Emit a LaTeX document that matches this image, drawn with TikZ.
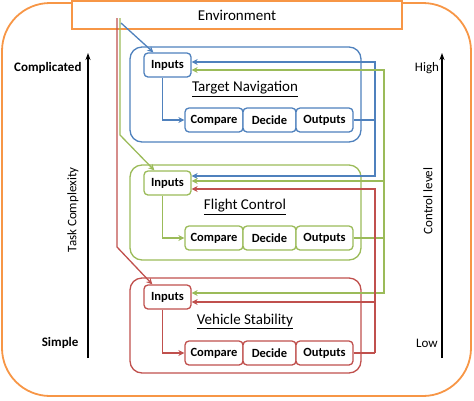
\documentclass[tikz,border=0pt]{standalone}
\usepackage{fontspec}
\setmainfont{Carlito}
\usetikzlibrary{arrows.meta,positioning}
\definecolor{cblue}{HTML}{4F81BD}
\definecolor{cgreen}{HTML}{9BBB59}
\definecolor{cred}{HTML}{C0504D}
\definecolor{corange}{HTML}{F79646}
\begin{document}
\begin{tikzpicture}[x=1pt, y=-1pt,
  group/.style={rectangle, draw, line width=1.3pt, rounded corners=12pt, minimum width=231pt, minimum height=95pt},
  box/.style={rectangle, draw, line width=1.3pt, rounded corners=4pt, fill=white, minimum height=24pt, inner sep=1pt, font=\fontsize{12.5}{14}\selectfont\bfseries},
  title/.style={font=\fontsize{15}{17}\selectfont},
  lbl/.style={font=\fontsize{13}{15}\selectfont},
  arrow/.style={-{Stealth[length=6pt,width=6pt]}, line width=1.3pt},
  axis/.style={-{Stealth[length=7pt,width=5pt]}, line width=1.2pt}
]
  \useasboundingbox (0,0) rectangle (474,400);
  \draw[corange, line width=1.8pt, rounded corners=48pt] (2,3) rectangle (471,396);
  \node[rectangle, draw=corange, line width=1.5pt, fill=white, minimum width=330pt, minimum height=28pt, font=\fontsize{15}{17}\selectfont] (env) at (237,15) {Environment};

  % Target Navigation
  \node[group, draw=cblue] (grpB) at (245.5,94.5) {};
  \node[box, draw=cblue, minimum width=47pt] (inB) at (167.5,65) {Inputs};
  \node[title] (tB) at (245,89) {\underline{Target Navigation}};
  \node[box, draw=cblue, minimum width=58pt] (cmpB) at (214,120) {Compare};
  \node[box, draw=cblue, minimum width=53pt] (decB) at (269.5,120) {Decide};
  \node[box, draw=cblue, minimum width=57pt] (outB) at (324.5,120) {Outputs};

  % Flight Control
  \node[group, draw=cgreen] (grpG) at (245.5,212.5) {};
  \node[box, draw=cgreen, minimum width=47pt] (inG) at (167.5,183) {Inputs};
  \node[title] (tG) at (245,207) {\underline{Flight Control}};
  \node[box, draw=cgreen, minimum width=58pt] (cmpG) at (214,238) {Compare};
  \node[box, draw=cgreen, minimum width=53pt] (decG) at (269.5,238) {Decide};
  \node[box, draw=cgreen, minimum width=57pt] (outG) at (324.5,238) {Outputs};

  % Vehicle Stability
  \node[group, draw=cred] (grpR) at (245.5,325.5) {};
  \node[box, draw=cred, minimum width=47pt] (inR) at (167.5,297) {Inputs};
  \node[title] (tR) at (245,321) {\underline{Vehicle Stability}};
  \node[box, draw=cred, minimum width=58pt] (cmpR) at (214,353) {Compare};
  \node[box, draw=cred, minimum width=53pt] (decR) at (269.5,353) {Decide};
  \node[box, draw=cred, minimum width=57pt] (outR) at (324.5,353) {Outputs};

  % from the environment
  \coordinate (envB) at (121,23);
  \coordinate (envG) at (120,18);
  \coordinate (envR) at (117,18);
  \draw[arrow, cred] (envR) -- (117,247) -- ([xshift=9pt]inR.north west);
  \draw[arrow, cgreen] (envG) -- (120,135) -- ([xshift=11pt]inG.north west);
  \draw[arrow, cblue] (envB) -- ([xshift=10pt]inB.north west);

  % inside the loops
  \draw[arrow, cblue] ([xshift=-5pt]inB.south) |- (cmpB.west);
  \draw[arrow, cgreen] ([xshift=-5pt]inG.south) |- (cmpG.west);
  \draw[arrow, cred] ([xshift=-5pt]inR.south) |- (cmpR.west);

  % feedback
  \coordinate (busB) at (375,120);
  \coordinate (busG) at (384,238);
  \coordinate (busR) at (375,353);
  \draw[line width=1.3pt, cblue] (outB.east) -- (busB);
  \draw[arrow, cblue] (busB) |- ([yshift=3pt]inB.east);
  \draw[arrow, cblue] (busB) |- ([yshift=7pt]inG.east);
  \draw[line width=1.3pt, cgreen] (outG.east) -- (busG);
  \draw[arrow, cgreen] (busG) |- ([yshift=-5pt]inB.east);
  \draw[arrow, cgreen] (busG) |- ([yshift=2pt]inG.east);
  \draw[arrow, cgreen] (busG) |- ([yshift=4pt]inR.east);
  \draw[line width=1.3pt, cred] (outR.east) -- (busR);
  \draw[arrow, cred] (busR) |- ([yshift=-6pt]inG.east);
  \draw[arrow, cred] (busR) |- ([yshift=-5pt]inR.east);

  % axes
  \coordinate (lowL) at (88,358);
  \coordinate (highL) at (88,53);
  \coordinate (lowR) at (442,358);
  \coordinate (highR) at (442,53);
  \draw[axis] (lowL) -- (highL);
  \draw[axis] (lowR) -- (highR);
  \node[lbl, font=\fontsize{13}{15}\selectfont\bfseries, anchor=east] (cmpl) at (85,68) {Complicated};
  \node[lbl, font=\fontsize{13}{15}\selectfont\bfseries, anchor=east] (simp) at (82,343) {Simple};
  \node[lbl, rotate=90] (task) at (73,210) {Task Complexity};
  \node[lbl] (high) at (427,68) {High};
  \node[lbl] (low) at (427,343) {Low};
  \node[lbl, rotate=90] (ctrl) at (428,201) {Control level};
\end{tikzpicture}
\end{document}
